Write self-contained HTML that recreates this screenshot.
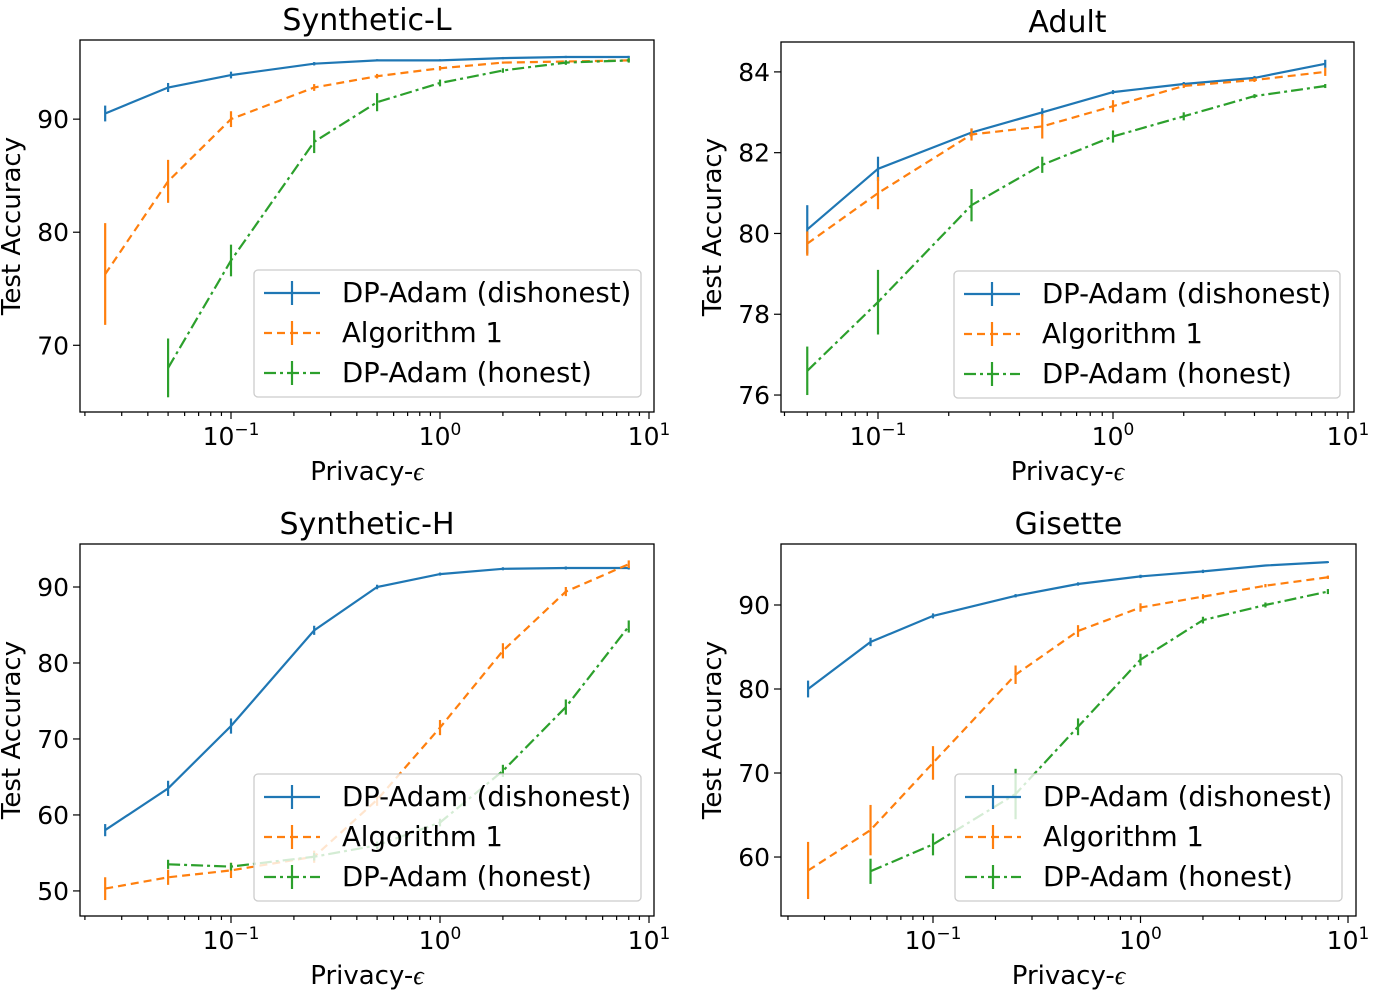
<!DOCTYPE html>
<html><head><meta charset="utf-8">
<style>
html,body{margin:0;padding:0;background:#fff;}
svg{display:block;font-family:"DejaVu Sans","Liberation Sans",sans-serif;}
</style></head>
<body>
<svg id="fig" width="1374" height="991" viewBox="0 0 1374 991" xmlns="http://www.w3.org/2000/svg"></svg>
<script>
const xsFull = [0.025,0.05,0.1,0.25,0.5,1,2,4,8];
const xsShort = [0.05,0.1,0.25,0.5,1,2,4,8];

const slBlue = [90.5,92.8,93.9,94.9,95.2,95.2,95.4,95.5,95.5];
const slBlueErr = [0.7,0.4,0.3,0.15,0.1,0.1,0.1,0.1,0.1];
const slOrange = [76.3,84.5,90.0,92.8,93.8,94.5,95.0,95.1,95.2];
const slOrangeErr = [4.5,1.9,0.7,0.3,0.2,0.2,0.1,0.1,0.1];
const slGreen = [68.0,77.5,88.0,91.5,93.2,94.3,95.0,95.2];
const slGreenErr = [2.6,1.4,1.0,0.8,0.3,0.2,0.2,0.2];

const adBlue = [80.1,81.6,82.5,83.0,83.5,83.7,83.85,84.2];
const adBlueErr = [0.6,0.3,0.1,0.1,0.05,0.05,0.05,0.1];
const adOrange = [79.75,81.0,82.45,82.65,83.15,83.65,83.8,84.0];
const adOrangeErr = [0.3,0.4,0.15,0.3,0.15,0.05,0.05,0.1];
const adGreen = [76.6,78.3,80.7,81.7,82.4,82.9,83.4,83.65];
const adGreenErr = [0.6,0.8,0.4,0.2,0.15,0.1,0.05,0.05];

const shBlue = [58.0,63.5,71.7,84.3,90.0,91.7,92.4,92.5,92.5];
const shBlueErr = [0.8,1.0,1.0,0.6,0.3,0.2,0.2,0.2,0.2];
const shOrange = [50.3,51.8,52.7,54.5,62.0,71.5,81.6,89.4,93.0];
const shOrangeErr = [1.5,1.0,1.0,0.8,0.8,1.0,1.0,0.6,0.5];
const shGreen = [53.5,53.2,54.5,56.0,59.0,65.8,74.2,84.8];
const shGreenErr = [0.6,0.5,0.5,0.5,0.5,0.8,1.0,0.8];

const giBlue = [80.0,85.6,88.7,91.1,92.5,93.4,94.0,94.7,95.1];
const giBlueErr = [1.0,0.5,0.3,0.2,0.2,0.2,0.2,0.1,0.1];
const giOrange = [58.4,63.2,71.2,81.7,86.9,89.7,91.0,92.3,93.3];
const giOrangeErr = [3.4,3.0,2.0,1.1,0.7,0.5,0.3,0.2,0.2];
const giGreen = [58.3,61.5,67.5,75.5,83.5,88.2,90.0,91.6];
const giGreenErr = [1.5,1.3,3.0,1.0,0.7,0.4,0.3,0.3];

const legendLabels = ["DP-Adam (dishonest)","Algorithm 1","DP-Adam (honest)"];

const NS="http://www.w3.org/2000/svg";
const svg=document.getElementById('fig');
function mk(tag,attrs,parent){const e=document.createElementNS(NS,tag);for(const k in attrs)e.setAttribute(k,attrs[k]);(parent||svg).appendChild(e);return e;}

const colors=["#1f77b4","#ff7f0e","#2ca02c"];
const dashes=["none","8,5","12,4,3,4"];

const panels=[
 {name:"synthetic-l",title:"Synthetic-L",L:80,R:654,T:40,B:412,dec0:231,dpx:209,ylo:64.1,yhi:97.0,yt:[70,80,90],
  series:[[xsFull,slBlue,slBlueErr],[xsFull,slOrange,slOrangeErr],[xsShort,slGreen,slGreenErr]],leg:[254,270,387,127]},
 {name:"adult",title:"Adult",L:781,R:1354,T:42,B:412,dec0:878,dpx:235,ylo:75.58,yhi:84.74,yt:[76,78,80,82,84],
  series:[[xsShort,adBlue,adBlueErr],[xsShort,adOrange,adOrangeErr],[xsShort,adGreen,adGreenErr]],leg:[954,271,386,127]},
 {name:"synthetic-h",title:"Synthetic-H",L:80,R:654,T:544,B:916,dec0:231,dpx:209,ylo:46.7,yhi:95.66,yt:[50,60,70,80,90],
  series:[[xsFull,shBlue,shBlueErr],[xsFull,shOrange,shOrangeErr],[xsShort,shGreen,shGreenErr]],leg:[254,774,387,127]},
 {name:"gisette",title:"Gisette",L:781,R:1356,T:544,B:916,dec0:933,dpx:207.5,ylo:52.98,yhi:97.26,yt:[60,70,80,90],
  series:[[xsFull,giBlue,giBlueErr],[xsFull,giOrange,giOrangeErr],[xsShort,giGreen,giGreenErr]],leg:[955,774,387,127]}
];

panels.forEach(p=>{
  const g=mk('g',{});
  
  
  const xf=v=>p.dec0+(Math.log10(v)+1)*p.dpx;
  const yf=v=>p.B-(v-p.ylo)/(p.yhi-p.ylo)*(p.B-p.T);
  const t=mk('text',{x:(p.L+p.R)/2,y:p.T-10,'text-anchor':'middle','font-size':30},g);t.textContent=p.title;
  
  p.series.forEach((s,i)=>{
    const [xs,ys,es]=s;
    const pts=xs.map((x,j)=>xf(x).toFixed(1)+','+yf(ys[j]).toFixed(1)).join(' ');
    const pl=mk('polyline',{points:pts,fill:'none',stroke:colors[i],'stroke-width':2.2,'stroke-dasharray':dashes[i]},g);
    
    
    xs.forEach((x,j)=>{
      const eb=mk('line',{x1:xf(x),x2:xf(x),y1:yf(ys[j]-es[j]),y2:yf(ys[j]+es[j]),stroke:colors[i],'stroke-width':2.2},g);
      
      
    });
  });
  const fr=mk('rect',{x:p.L,y:p.T,width:p.R-p.L,height:p.B-p.T,fill:'none',stroke:'#000','stroke-width':1.3},g);
  
  for(let d=-2;d<=1;d++){
    for(let m=1;m<=9;m++){
      const v=m*Math.pow(10,d);const x=xf(v);
      if(x<p.L||x>p.R)continue;
      mk('line',{x1:x,x2:x,y1:p.B,y2:p.B+(m===1?7:4),stroke:'#000','stroke-width':1.2},g);
      if(m===1){
        const tl=mk('text',{x:x,y:p.B+33,'text-anchor':'middle','font-size':25},g);
        tl.innerHTML='10<tspan dy="-10" font-size="17">'+(d<0?'−'+(-d):d)+'</tspan>';
        
      }
    }
  }
  const xl=mk('text',{x:(p.L+p.R)/2,y:p.B+68,'text-anchor':'middle','font-size':26},g);
  xl.innerHTML='Privacy-<tspan font-family="Liberation Serif,serif" font-style="italic">ϵ</tspan>';
  
  p.yt.forEach(v=>{
    const y=yf(v);
    mk('line',{x1:p.L-7,x2:p.L,y1:y,y2:y,stroke:'#000','stroke-width':1.2},g);
    const tl=mk('text',{x:p.L-11,y:y+9,'text-anchor':'end','font-size':25},g);tl.textContent=v;
    
  });
  const yl=mk('text',{x:0,y:0,'text-anchor':'middle','font-size':26,transform:'translate('+(p.L-60)+','+((p.T+p.B)/2)+') rotate(-90)'},g);
  yl.textContent='Test Accuracy';
  
  const [lx,ly,lw,lh]=p.leg;
  const lg=mk('g',{},g);
  
  mk('rect',{x:lx,y:ly,width:lw,height:lh,rx:4,fill:'#fff','fill-opacity':0.8,stroke:'#ccc','stroke-width':1.3},lg);
  legendLabels.forEach((lab,i)=>{
    const yy=ly+23+i*40;
    mk('line',{x1:lx+10,x2:lx+66,y1:yy,y2:yy,stroke:colors[i],'stroke-width':2.2,'stroke-dasharray':dashes[i]},lg);
    mk('line',{x1:lx+38,x2:lx+38,y1:yy-12,y2:yy+12,stroke:colors[i],'stroke-width':2.2},lg);
    const tx=mk('text',{x:lx+88,y:yy+9,'font-size':27.5},lg);tx.textContent=lab;
    
  });
});
</script>
</body></html>
